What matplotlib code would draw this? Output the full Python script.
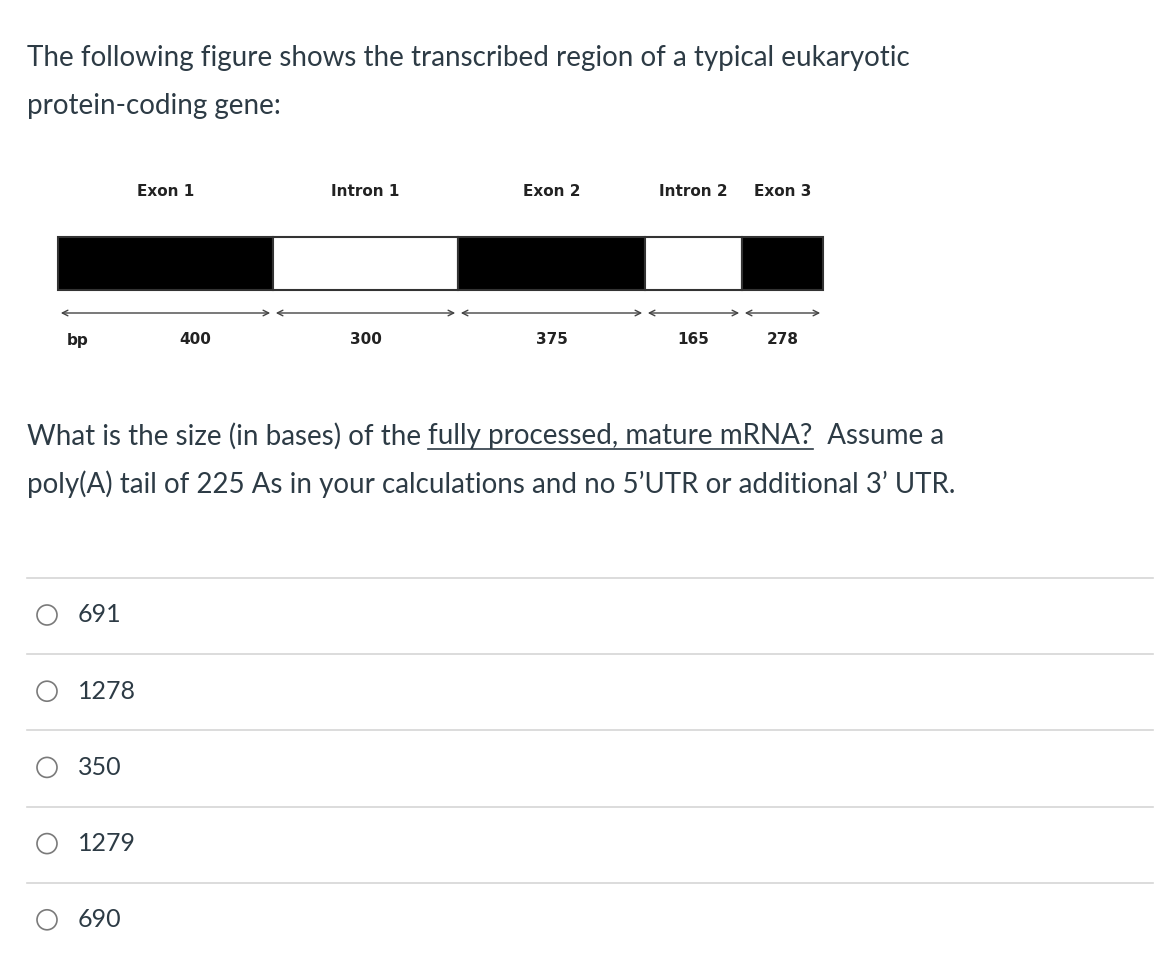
import matplotlib.pyplot as plt
from matplotlib.patches import Rectangle, Circle

# gene segments (names, bp lengths, drawn widths in px - diagram is not to scale)
segment_names = ['Exon 1', 'Intron 1', 'Exon 2', 'Intron 2', 'Exon 3']
segment_bp = [400, 300, 375, 165, 278]
segment_is_exon = [True, False, True, False, True]
drawn_widths = [215, 185, 187, 97, 81]

options = ['691', '1278', '350', '1279', '690']

W, H = 1166, 968
fig = plt.figure(figsize=(W / 100, H / 100), dpi=100)
ax = fig.add_axes([0, 0, 1, 1])
ax.set_xlim(0, W)
ax.set_ylim(H, 0)
ax.axis('off')

txt = '#2d3b45'
font = 'Lato'

ax.text(27, 58, 'The following figure shows the transcribed region of a typical eukaryotic',
        fontsize=20, family=font, color=txt, va='center')
ax.text(27, 106, 'protein-coding gene:', fontsize=20, family=font, color=txt, va='center')

# gene diagram
x = 58
for name, bp, exon, w in zip(segment_names, segment_bp, segment_is_exon, drawn_widths):
    ax.add_patch(Rectangle((x, 237), w, 53, facecolor='black' if exon else 'white',
                           edgecolor='#333333', lw=1.5))
    ax.annotate('', xy=(x, 313), xytext=(x + w, 313),
                arrowprops=dict(arrowstyle='<->', lw=1, color='#444444', mutation_scale=10))
    ax.text(x + w / 2, 192, name, fontsize=11, weight='bold', family='DejaVu Sans',
            ha='center', va='center', color='#222222')
    lx = x + w / 2 + (40 if name == 'Exon 1' else 0)
    ax.text(lx - (10 if name == 'Exon 1' else 0), 340, str(bp), fontsize=11, weight='bold',
            family='DejaVu Sans', ha='center', va='center', color='#222222')
    x += w
ax.text(67, 340, 'bp', fontsize=11, weight='bold', family='DejaVu Sans', va='center', color='#222222')

# question with underlined part
fig.canvas.draw()
r = fig.canvas.get_renderer()
inv = ax.transData.inverted()
parts = [('What is the size (in bases) of the ', False), ('fully processed, mature mRNA?', True),
         ('  Assume a', False)]
px = 27
for s, ul in parts:
    t = ax.text(px, 436, s, fontsize=20, family=font, color=txt, va='center')
    bb = t.get_window_extent(renderer=r)
    x0 = inv.transform((bb.x0, 0))[0]
    x1 = inv.transform((bb.x1, 0))[0]
    if ul:
        ax.plot([x0, x1], [449, 449], color=txt, lw=1.2)
    px = x1
ax.text(27, 484, 'poly(A) tail of 225 As in your calculations and no 5\u2019UTR or additional 3\u2019 UTR.',
        fontsize=20, family=font, color=txt, va='center')

# answer options
for i, opt in enumerate(options):
    y_line = 578 + i * 76.2
    ax.plot([27, 1153], [y_line, y_line], color='#d6d6d6', lw=1.2)
    yc = y_line + 37
    ax.add_patch(Circle((47, yc), 10, facecolor='white', edgecolor='#7a7a7a', lw=1.2))
    ax.text(78, yc, opt, fontsize=18, family=font, color=txt, va='center')

fig.savefig('out.png', dpi=100)
